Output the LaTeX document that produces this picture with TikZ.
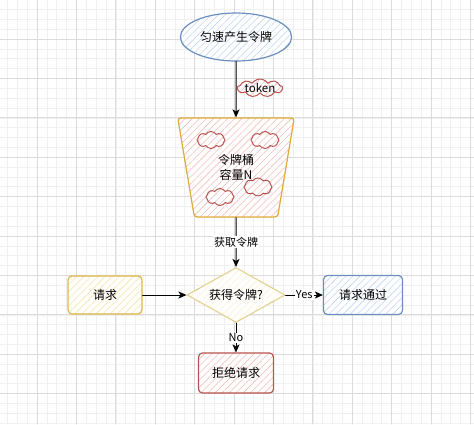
\documentclass[tikz,border=0pt]{standalone}
\usepackage{fontspec}
\setmainfont{Noto Sans CJK SC}
\usetikzlibrary{arrows.meta,shapes.geometric,shapes.symbols,patterns.meta}
\definecolor{gridmin}{rgb}{0.94,0.94,0.94}
\definecolor{gridmaj}{rgb}{0.86,0.86,0.86}
\definecolor{blstroke}{rgb}{0.42,0.56,0.75}
\definecolor{blhatch}{rgb}{0.77,0.84,0.94}
\definecolor{orstroke}{rgb}{0.87,0.67,0.22}
\definecolor{ylstroke}{rgb}{0.87,0.72,0.30}
\definecolor{ylhatch}{rgb}{0.97,0.89,0.66}
\definecolor{yldiam}{rgb}{0.89,0.82,0.56}
\definecolor{rdstroke}{rgb}{0.72,0.33,0.31}
\definecolor{pkhatch}{rgb}{0.96,0.75,0.74}

\begin{document}
\begin{tikzpicture}[line cap=round,line join=round,>={Stealth[length=8pt,width=7pt,inset=2pt]},x=1.0pt,y=-1.0pt,
	font=\fontsize{12}{15}\selectfont,
	hatch/.style={preaction={fill=white},pattern={Lines[angle=45,distance=5pt,line width=0.6pt]},pattern color=#1},
	box/.style={draw=#1,line width=1.2pt,rounded corners=4pt},
	puff/.style={cloud,cloud puffs=8,cloud puff arc=115,cloud ignores aspect,draw=rdstroke,line width=1pt,inner sep=0pt,hatch=pkhatch},
	lbl/.style={fill=white,inner sep=1pt,font=\fontsize{11}{13}\selectfont},
	conn/.style={->,line width=1pt,color=black}]
				\useasboundingbox (0,0) rectangle (474,424);
				\clip (0,0) rectangle (474,424);
				\foreach \i in {0,...,48}
				\draw[color=gridmin,line width=0.6pt] ({-2.4+9.85*\i},0) -- ({-2.4+9.85*\i},424);
				\foreach \i in {0,...,43}
				\draw[color=gridmin,line width=0.6pt] (0,{-0.4+9.85*\i}) -- (474,{-0.4+9.85*\i});
				\foreach \i in {0,...,12}
				\draw[color=gridmaj,line width=0.7pt] ({-2.4+39.4*\i},0) -- ({-2.4+39.4*\i},424);
				\foreach \i in {0,...,10}
				\draw[color=gridmaj,line width=0.7pt] (0,{-0.4+39.4*\i}) -- (474,{-0.4+39.4*\i});
				\node[ellipse,draw=blstroke,line width=1.2pt,hatch=blhatch,minimum width=92pt,minimum height=48pt] (gen) at (236,37) {匀速产生令牌};
				\node[puff,cloud puffs=9,minimum width=45pt,minimum height=18pt,label={[font=\fontsize{11.5}{13}\selectfont]center:token}] (tok) at (260,88) {};
				\node[trapezium,shape border rotate=180,trapezium left angle=75.5,trapezium right angle=75.5,trapezium stretches=true,minimum width=117pt,minimum height=99pt,draw=orstroke,line width=1.2pt,rounded corners=3pt,hatch=pkhatch,align=center] (bucket) at (236,167.5) {令牌桶\\容量N};
				\node[puff,minimum width=28pt,minimum height=17pt] (tk1) at (211,140) {};
				\node[puff,minimum width=28pt,minimum height=17pt] (tk2) at (265,140) {};
				\node[puff,minimum width=28pt,minimum height=18pt] (tk3) at (258,187) {};
				\node[puff,minimum width=28pt,minimum height=17pt] (tk4) at (220,197) {};
				\node[diamond,aspect=1.8,inner sep=0pt,minimum width=98pt,minimum height=55pt,draw=yldiam,line width=1.1pt,hatch=ylhatch!50] (got) at (236,295) {获得令牌?};
				\node[box=ylstroke,hatch=ylhatch,minimum width=74pt,minimum height=38pt] (req) at (105,295) {请求};
				\node[box=blstroke,hatch=blhatch,minimum width=79pt,minimum height=39pt] (pass) at (363,295) {请求通过};
				\node[box=rdstroke,hatch=pkhatch,minimum width=75pt,minimum height=40pt] (deny) at (236,373) {拒绝请求};
				\draw[conn] (gen) -- (bucket);
				\draw[conn] (bucket) -- node[lbl] {获取令牌} (got);
				\draw[conn] (req) -- (got);
				\draw[conn] (got) -- node[lbl] {Yes} (pass);
				\draw[conn] (got) -- node[lbl] {No} (deny);
\end{tikzpicture}
\end{document}
